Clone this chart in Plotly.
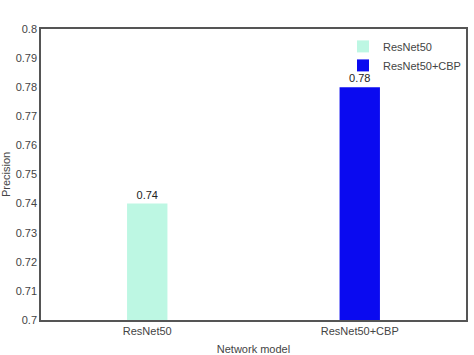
import plotly.graph_objects as go

categories = ["ResNet50", "ResNet50+CBP"]
precision = [0.74, 0.78]
colors = ["#BDF7E3", "#0A0AF0"]
ytick_vals = [0.7, 0.71, 0.72, 0.73, 0.74, 0.75, 0.76, 0.77, 0.78, 0.79, 0.8]
ytick_text = ["0.7", "0.71", "0.72", "0.73", "0.74", "0.75", "0.76", "0.77", "0.78", "0.79", "0.8"]

fig = go.Figure()
for cat, val, col in zip(categories, precision, colors):
    fig.add_trace(go.Bar(
        x=[cat], y=[val], name=cat, marker=dict(color=col, line=dict(width=0)),
        width=0.19, text=[f"{val:.2f}"], textposition="outside",
        textfont=dict(size=11, color="#222222"), cliponaxis=False,
    ))

fig.update_layout(
    width=474, height=355,
    margin=dict(l=41, r=8, t=29, b=35),
    paper_bgcolor="white", plot_bgcolor="white",
    font=dict(family="Liberation Sans, Arial, sans-serif", size=11, color="#444444"),
    barmode="overlay",
    showlegend=True,
    legend=dict(x=1.0, y=0.99, xanchor="right", yanchor="top",
                bgcolor="rgba(0,0,0,0)", font=dict(size=11, color="#444444"),
                itemwidth=30, tracegroupgap=0),
    xaxis=dict(
        showline=True, linecolor="#555555", linewidth=1.5, mirror=True,
        ticks="", showgrid=False, automargin=False,
        title=dict(text="Network model", font=dict(size=11, color="#444444")),
        tickfont=dict(size=11, color="#444444"),
    ),
    yaxis=dict(
        range=[0.7, 0.8], tickvals=ytick_vals, ticktext=ytick_text,
        showline=True, linecolor="#555555", linewidth=1.5, mirror=True,
        ticks="", showgrid=False, zeroline=False, automargin=False,
        title=dict(text="Precision", font=dict(size=11, color="#444444")),
        tickfont=dict(size=11, color="#444444"),
    ),
)

fig.write_html("out.html")
